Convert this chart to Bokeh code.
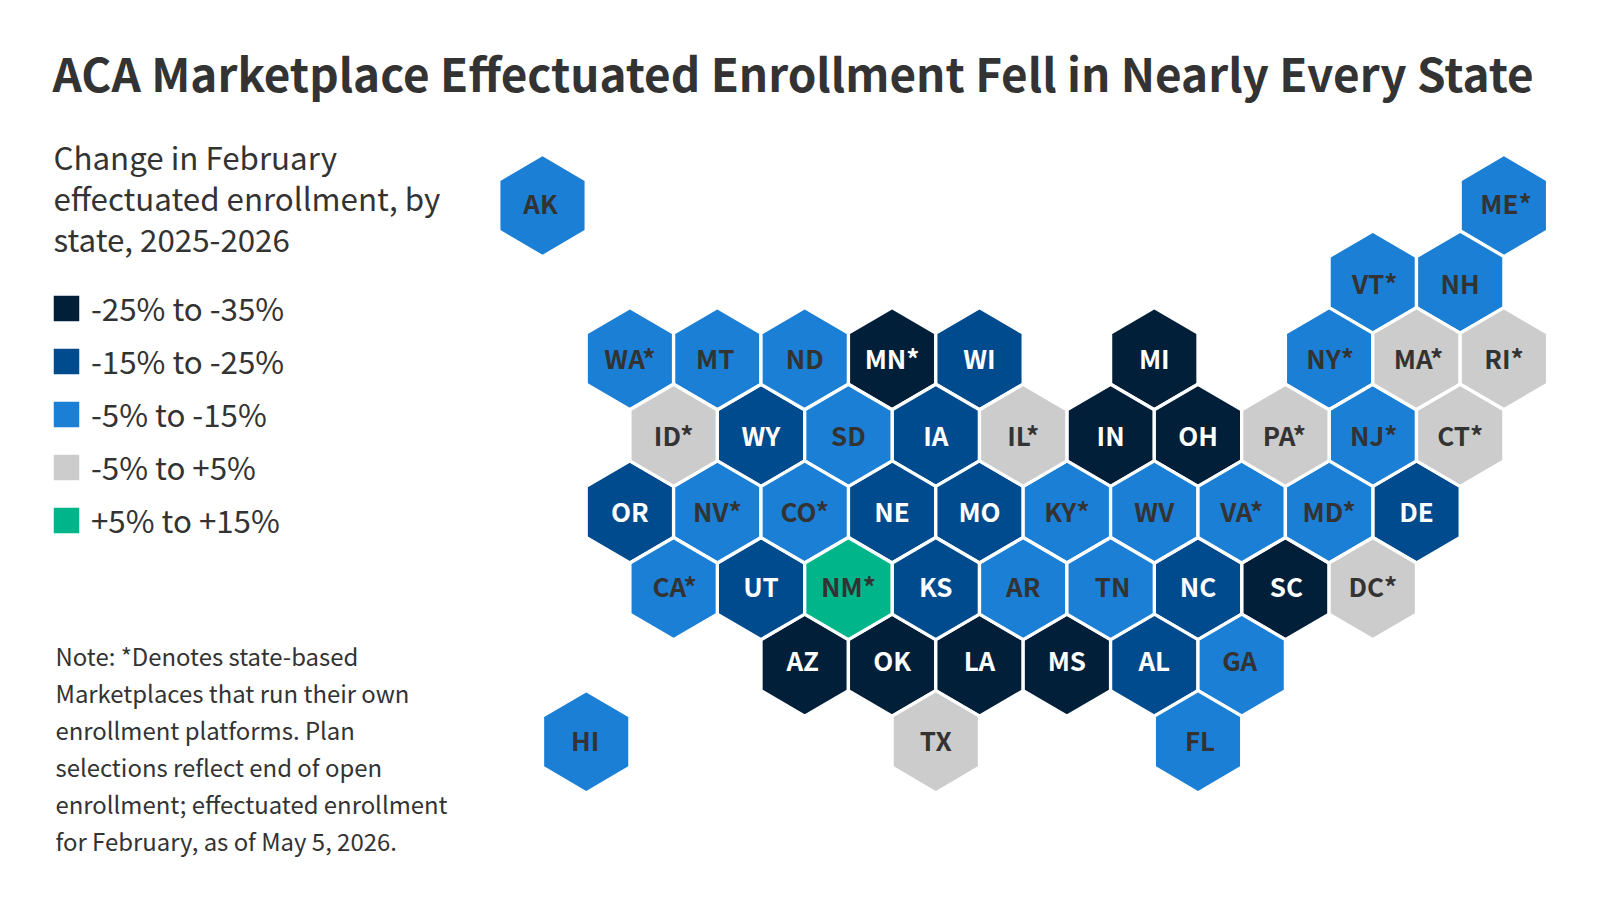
from bokeh.embed import file_html
from bokeh.resources import INLINE
from bokeh.plotting import figure, ColumnDataSource
from bokeh.models import Label, Range1d
from bokeh.core.properties import value
from bokeh.util.hex import axial_to_cartesian
import numpy as np

FONT = "Noto Sans CJK SC"
INK = "#333333"

TITLE = "ACA Marketplace Effectuated Enrollment Fell in Nearly Every State"
SUBTITLE = ["Change in February", "effectuated enrollment, by", "state, 2025-2026"]
NOTE = ["Note: *Denotes state-based", "Marketplaces that run their own",
        "enrollment platforms. Plan", "selections reflect end of open",
        "enrollment; effectuated enrollment", "for February, as of May 5, 2026."]

BANDS = ["-25% to -35%", "-15% to -25%", "-5% to -15%", "-5% to +5%", "+5% to +15%"]
BAND_COLORS = ["#011F38", "#004B8D", "#1B7FD6", "#CCCCCC", "#00B58A"]
BAND_TEXT = ["#FFFFFF", "#FFFFFF", INK, INK, INK]

STATES = ["AK","ME*","VT*","NH","WA*","MT","ND","MN*","WI","MI","NY*","MA*","RI*",
          "ID*","WY","SD","IA","IL*","IN","OH","PA*","NJ*","CT*",
          "OR","NV*","CO*","NE","MO","KY*","WV","VA*","MD*","DE",
          "CA*","UT","NM*","KS","AR","TN","NC","SC","DC*",
          "AZ","OK","LA","MS","AL","GA","HI","TX","FL"]
ROWS = [0,0,1,1,2,2,2,2,2,2,2,2,2,
        3,3,3,3,3,3,3,3,3,3,
        4,4,4,4,4,4,4,4,4,4,
        5,5,5,5,5,5,5,5,5,
        6,6,6,6,6,6,7,7,7]
COLS = [0,22,19,21,2,4,6,8,10,14,18,20,22,
        3,5,7,9,11,13,15,17,19,21,
        2,4,6,8,10,12,14,16,18,20,
        3,5,7,9,11,13,15,17,19,
        6,8,10,12,14,16,1,9,15]
BAND_OF = [2,2,2,2,2,2,2,0,1,0,2,3,3,
           3,1,2,1,3,0,0,3,2,3,
           1,2,2,1,1,2,2,2,2,1,
           2,1,4,1,2,2,1,0,3,
           0,0,0,0,1,2,2,3,2]

# small label nudges (px): the reference's labels are not exactly centred
ROW_NUDGE_Y = [-3, 0, -1, -1, -1, -3, -6, -2]
NUDGE_X = {"AK": -2, "MT": -2, "AZ": -2, "GA": -2, "FL": 2, "TN": 2, "ME*": 2,
           "VT*": 2, "NY*": 1, "MA*": 2, "CA*": 1, "SC": 1, "PA*": -1, "NJ*": 1,
           "HI": -1}

W, H = 1584, 884
PX_X, PX_Y = 50.46, 51.07
X0_PX, Y0_PX = 542.0, 205.0

p = figure(width=W, height=H, output_backend="svg", toolbar_location=None,
           x_range=Range1d(-X0_PX / PX_X, (W - X0_PX) / PX_X),
           y_range=Range1d((Y0_PX - H) / PX_Y, Y0_PX / PX_Y),
           x_axis_type=None, y_axis_type=None, min_border=0,
           outline_line_color=None, background_fill_color="white",
           border_fill_color="white")
p.grid.visible = False

r = np.array(ROWS)
q = (np.array(COLS) - r) // 2
band = np.array(BAND_OF)
cx, cy = axial_to_cartesian(q, r, 1, "pointytop")

for i, name in enumerate(BANDS):
    m = band == i
    src = ColumnDataSource(dict(q=q[m], r=r[m]))
    p.hex_tile(q="q", r="r", size=1, orientation="pointytop", source=src,
               fill_color=BAND_COLORS[i], line_color="white", line_width=3.3,
               legend_label=name)

src = ColumnDataSource(dict(x=cx, y=cy, t=STATES,
                            c=[BAND_TEXT[b] for b in BAND_OF],
                            dx=[NUDGE_X.get(s, 0) for s in STATES],
                            dy=[ROW_NUDGE_Y[k] for k in ROWS]))
p.text(x="x", y="y", text="t", source=src, text_color="c", x_offset="dx", y_offset="dy",
       text_font=value(FONT), text_font_style="bold", text_font_size="26px",
       text_align="center", text_baseline="middle")


def label(text, x, y, size, style="normal"):
    p.add_layout(Label(x=x, y=H - y, x_units="screen", y_units="screen",
                       text=text, text_font=FONT, text_font_size=size,
                       text_font_style=style, text_color=INK,
                       text_align="left", text_baseline="middle"))


label(TITLE, 52, 71, "45.85px", "bold")
for i, s in enumerate(SUBTITLE):
    label(s, 53, 156 + 41 * i, "31.3px")
for i, s in enumerate(NOTE):
    label(s, 55, 655 + 37 * i, "23.9px")

lg = p.legend[0]
lg.location = (48, 342)
lg.border_line_color = None
lg.background_fill_color = None
lg.margin = 0
lg.padding = 0
lg.glyph_width = 36
lg.glyph_height = 36
lg.label_standoff = 7
lg.label_text_font = FONT
lg.label_text_font_size = "31.3px"
lg.label_text_color = INK
lg.spacing = 8

open("out.html", "w").write(file_html(p, INLINE))
